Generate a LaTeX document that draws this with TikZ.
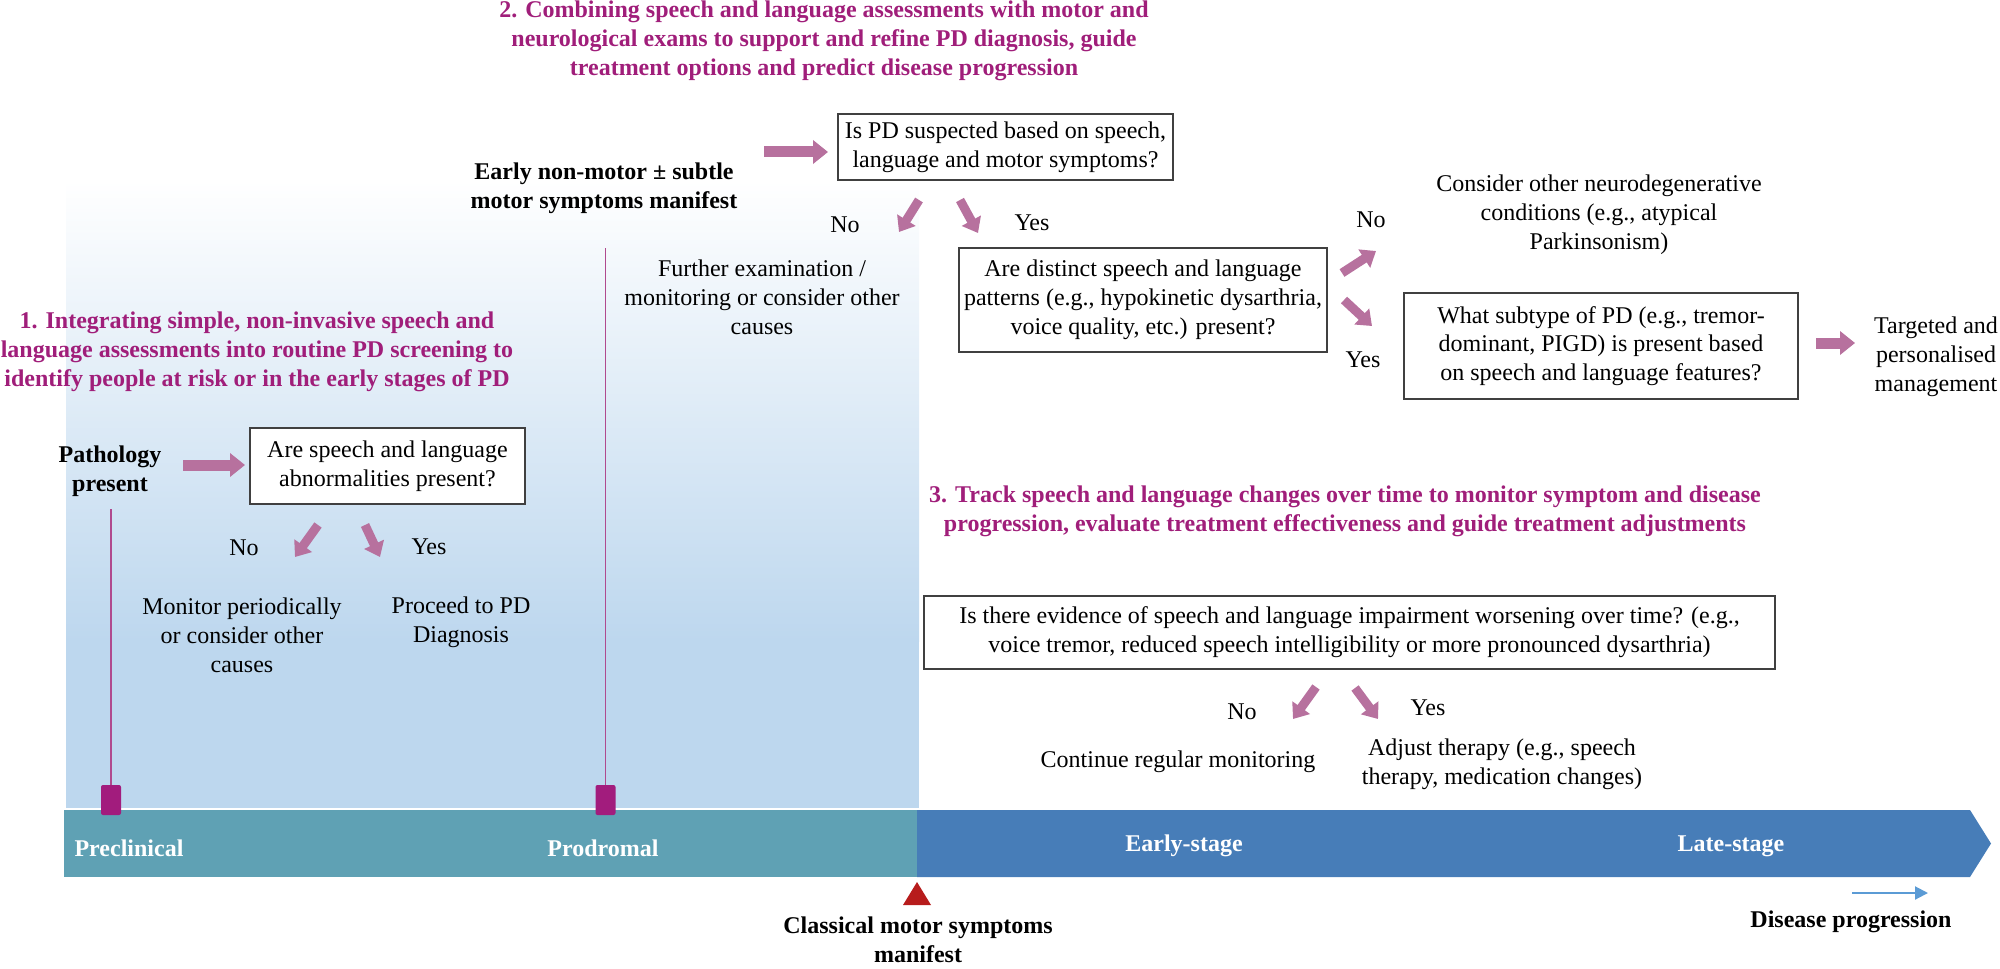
\documentclass[tikz,border=0pt]{standalone}
\usepackage{fontspec}
\setmainfont{Liberation Serif}
\usetikzlibrary{arrows.meta}
\definecolor{ttl}{HTML}{A01E7A}
\definecolor{pk}{HTML}{B7719E}
\definecolor{barteal}{HTML}{5FA1B4}
\definecolor{barblue}{HTML}{477DB8}
\definecolor{gradb}{HTML}{BDD7EE}
\definecolor{mkr}{HTML}{A21C7D}
\definecolor{vline}{HTML}{B04A8E}
\definecolor{tri}{HTML}{B71C1C}
\definecolor{dprog}{HTML}{5B9BD5}
\definecolor{boxc}{HTML}{404040}
\tikzset{
  txt/.style={align=center, inner sep=0pt},
  title/.style={txt, font=\fontsize{12}{14.4}\selectfont\bfseries, text=ttl},
  bold/.style={txt, font=\fontsize{12}{14.4}\selectfont\bfseries},
  stage/.style={txt, font=\fontsize{12}{14.4}\selectfont\bfseries, text=white},
  qbox/.style={draw=boxc, line width=0.6pt, align=center, inner xsep=2pt, inner ysep=2pt, fill=white},
  fat/.style={draw=pk, line width=5.5pt, -{Triangle[length=7.5pt,width=11.5pt]}},
  fatd/.style={draw=pk, line width=4.5pt, -{Triangle[length=7pt,width=10.5pt]}},
  vl/.style={draw=vline, line width=0.7pt},
  marker/.style={fill=mkr, rounded corners=1pt, minimum width=10pt, minimum height=15pt, inner sep=0pt},
}
\begin{document}
\begin{tikzpicture}[x=0.5pt,y=-0.5pt, font=\fontsize{12}{14.4}\selectfont]
\useasboundingbox (0,0) rectangle (2000,968);
% background gradient
\shade[top color=white, bottom color=gradb] (66,180) rectangle (919,641);
\fill[gradb] (66,640) rectangle (919,808);
% timeline bar
\fill[barteal] (64,810) rectangle (917,877);
\fill[barblue] (917,810) -- (1970,810) -- (1991,843.5) -- (1970,877) -- (917,877) -- cycle;
\node[stage] (pre) at (129,848) {Preclinical};
\node[stage] (pro) at (603,848) {Prodromal};
\node[stage] (early) at (1184,846) {Early-stage};
\node[stage] (late) at (1731,846) {Late-stage};
% markers and lines
\node[marker] (m1) at (111,800) {};
\node[marker] (m2) at (605.5,800) {};
\coordinate (l1) at (111,509);
\coordinate (l2) at (605.5,248);
\draw[vl] (m1.north) -- (l1);
\draw[vl] (m2.north) -- (l2);
% red triangle
\fill[tri] (917,882) -- (931,905) -- (903,905) -- cycle;
\node[bold] (cms) at (918,940) {Classical motor symptoms\\manifest};
% disease progression
\coordinate (dp1) at (1852,893);
\coordinate (dp2) at (1928,893);
\draw[dprog, line width=1pt, -{Triangle[length=6.5pt,width=6.5pt]}] (dp1) -- (dp2);
\node[bold] (dpt) at (1851,922) {Disease progression};

% ---- section 1
\node[title] (t1) at (257,352) {1. Integrating simple, non-invasive speech and\\language assessments into routine PD screening to\\identify people at risk or in the early stages of PD};
\node[bold] (path) at (110,471) {Pathology\\present};
\node[qbox, minimum width=137.5pt, minimum height=38pt] (b1) at (387.5,466) {Are speech and language\\abnormalities present?};
\coordinate (a1s) at (183,465); \coordinate (a1e) at (245,465);
\draw[fat] (a1s) -- (a1e);
\coordinate (n1s) at (318,525); \coordinate (n1e) at (295,557);
\coordinate (y1s) at (365,525); \coordinate (y1e) at (380,557);
\draw[fatd] (n1s) -- (n1e);
\draw[fatd] (y1s) -- (y1e);
\node[txt] (no1) at (244,548) {No};
\node[txt] (yes1) at (429,547) {Yes};
\node[txt] (mon) at (242,635) {Monitor periodically\\or consider other\\causes};
\node[txt] (proc) at (461,622) {Proceed to PD\\Diagnosis};

% ---- section 2
\node[title] (t2) at (824,41) {2. Combining speech and language assessments with motor and\\neurological exams to support and refine PD diagnosis, guide\\treatment options and predict disease progression};
\node[bold] (early2) at (604,188) {Early non-motor ± subtle\\motor symptoms manifest};
\node[qbox, minimum width=167.5pt, minimum height=33pt] (b2) at (1005.5,147) {Is PD suspected based on speech,\\language and motor symptoms?};
\coordinate (a2s) at (764,152); \coordinate (a2e) at (828,152);
\draw[fat] (a2s) -- (a2e);
\coordinate (n2s) at (919,200); \coordinate (n2e) at (899,232);
\coordinate (y2s) at (960,200); \coordinate (y2e) at (978,233);
\draw[fatd] (n2s) -- (n2e);
\draw[fatd] (y2s) -- (y2e);
\node[txt] (no2) at (845,225) {No};
\node[txt] (yes2) at (1032,223) {Yes};
\node[txt] (fur) at (762,297) {Further examination /\\monitoring or consider other\\causes};
\node[qbox, minimum width=184pt, minimum height=52pt] (b3) at (1143,300) {Are distinct speech and language\\patterns (e.g., hypokinetic dysarthria,\\voice quality, etc.) present?};
\coordinate (n3s) at (1342,273); \coordinate (n3e) at (1376,251);
\coordinate (y3s) at (1344,300); \coordinate (y3e) at (1372,326);
\draw[fatd] (n3s) -- (n3e);
\draw[fatd] (y3s) -- (y3e);
\node[txt] (no3) at (1371,220) {No};
\node[txt] (yes3) at (1363,360) {Yes};
\node[txt] (cons) at (1599,215) {Consider other neurodegenerative\\conditions (e.g., atypical\\Parkinsonism)};
\node[qbox, minimum width=197pt, minimum height=53pt] (b4) at (1601,346) {What subtype of PD (e.g., tremor-\\dominant, PIGD) is present based\\on speech and language features?};
\coordinate (a4s) at (1816,343); \coordinate (a4e) at (1855,343);
\draw[fat] (a4s) -- (a4e);
\node[txt] (targ) at (1936,357) {Targeted and\\personalised\\management};

% ---- section 3
\node[title] (t3) at (1345,511) {3. Track speech and language changes over time to monitor symptom and disease\\progression, evaluate treatment effectiveness and guide treatment adjustments};
\node[qbox, minimum width=425.5pt, minimum height=36.5pt] (b5) at (1349.5,632.5) {Is there evidence of speech and language impairment worsening over time? (e.g.,\\voice tremor, reduced speech intelligibility or more pronounced dysarthria)};
\coordinate (n5s) at (1316,687); \coordinate (n5e) at (1293,719);
\coordinate (y5s) at (1355,688); \coordinate (y5e) at (1378,719);
\draw[fatd] (n5s) -- (n5e);
\draw[fatd] (y5s) -- (y5e);
\node[txt] (no5) at (1242,712) {No};
\node[txt] (yes5) at (1428,708) {Yes};
\node[txt] (cont) at (1178,762) {Continue regular monitoring};
\node[txt] (adj) at (1502,764) {Adjust therapy (e.g., speech\\therapy, medication changes)};
\end{tikzpicture}
\end{document}
